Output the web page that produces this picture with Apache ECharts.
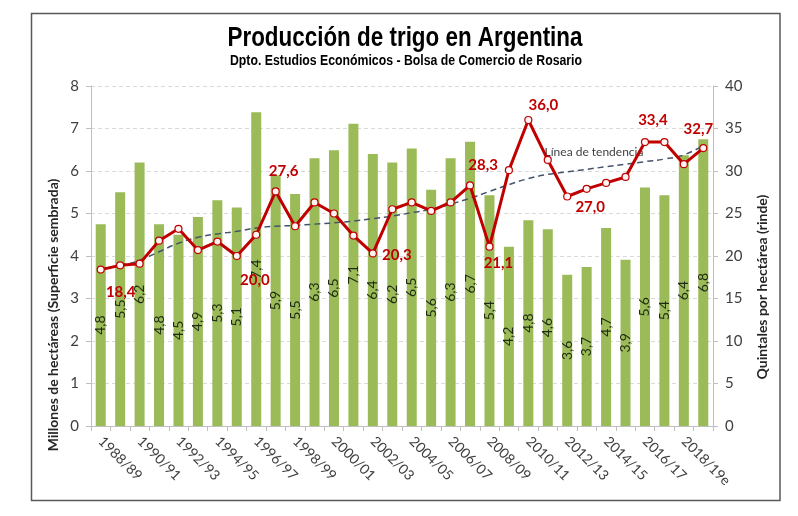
<!DOCTYPE html>
<html>
<head>
<meta charset="utf-8">
<script src="https://cdn.jsdelivr.net/npm/echarts@6/dist/echarts.min.js"></script>
<style>
html,body{margin:0;padding:0;background:#fff;}
#chart{width:798px;height:516px;}
</style>
</head>
<body>
<div id="chart"></div>
<script>
const categories = ['1988/89','1989/90','1990/91','1991/92','1992/93','1993/94','1994/95','1995/96','1996/97','1997/98','1998/99','1999/00','2000/01','2001/02','2002/03','2003/04','2004/05','2005/06','2006/07','2007/08','2008/09','2009/10','2010/11','2011/12','2012/13','2013/14','2014/15','2015/16','2016/17','2017/18','2018/19e','2019/20e'];
const areaMha = [4.75,5.5,6.2,4.75,4.5,4.92,5.31,5.14,7.38,5.9,5.46,6.3,6.49,7.11,6.4,6.2,6.53,5.56,6.3,6.69,5.43,4.22,4.84,4.63,3.56,3.74,4.66,3.91,5.61,5.43,6.37,6.75];
const yieldQqHa = [18.4,18.9,19.1,21.8,23.2,20.7,21.7,20.0,22.5,27.6,23.5,26.3,25.0,22.4,20.3,25.5,26.3,25.3,26.3,28.3,21.1,30.1,36.0,31.3,27.0,27.9,28.6,29.3,33.4,33.4,30.8,32.7];
const trendQqHa = [18.5,18.9,19.5,20.5,21.5,22.2,22.6,22.9,23.3,23.5,23.6,23.75,23.9,24.1,24.4,24.7,25.1,25.5,26.1,26.8,27.6,28.4,29.1,29.6,29.9,30.2,30.5,30.8,31.1,31.4,31.9,33.0];

const titleText = 'Producción de trigo en Argentina';
const subtitleText = 'Dpto. Estudios Económicos - Bolsa de Comercio de Rosario';

// which yield points carry a label, and where the label sits relative to the point
const yieldLabelOffsets = {0:[20,23],7:[18,24],9:[8,-20],14:[24,2],19:[13,-20],20:[9,17],22:[15,-15],24:[23,11],28:[8,-22],31:[-5,-19]};

const fmt = v => Number(v).toFixed(1).replace('.', ',');
const FONT = 'Lato';

// condensed look for the title: measure and squeeze horizontally
const ctx = document.createElement('canvas').getContext('2d');
function squeeze(text, font, target) {
  ctx.font = font;
  return target / ctx.measureText(text).width;
}
const titleFont = 'bold 27px "Liberation Sans"';
const subFont = 'bold 14px "Liberation Sans"';
const titleScale = squeeze(titleText, titleFont, 355);
const subScale = squeeze(subtitleText, subFont, 352);

const yieldData = yieldQqHa.map((v, i) => {
  const off = yieldLabelOffsets[i];
  if (!off) return v;
  return {
    value: v,
    label: {
      show: true, position: 'inside', offset: off,
      formatter: p => fmt(p.value),
      color: '#c00000', fontWeight: 'bold', fontSize: 15, fontFamily: FONT
    }
  };
});

const chart = echarts.init(document.getElementById('chart'), null, {renderer: 'canvas'});
chart.setOption({
  animation: false,
  backgroundColor: '#ffffff',
  grid: {left: 91, right: 85, top: 86, bottom: 90, containLabel: false},
  xAxis: {
    type: 'category', data: categories, boundaryGap: true,
    axisLine: {lineStyle: {color: '#bfbfbf'}},
    axisTick: {show: true, interval: 0, length: 5, lineStyle: {color: '#bfbfbf'}},
    axisLabel: {interval: 1, rotate: -45, margin: 13, fontSize: 14, color: '#404040', fontFamily: FONT}
  },
  yAxis: [{
    type: 'value', min: 0, max: 8, interval: 1,
    axisLine: {show: true, lineStyle: {color: '#bfbfbf'}},
    axisTick: {show: true, length: 5, lineStyle: {color: '#bfbfbf'}},
    axisLabel: {fontSize: 15, color: '#404040', margin: 12, fontFamily: FONT},
    splitLine: {show: true, lineStyle: {color: '#d9d9d9', type: [4, 3]}}
  }, {
    type: 'value', min: 0, max: 40, interval: 5,
    axisLine: {show: true, lineStyle: {color: '#bfbfbf'}},
    axisTick: {show: true, length: 5, lineStyle: {color: '#bfbfbf'}},
    axisLabel: {fontSize: 15, color: '#404040', margin: 12, fontFamily: FONT},
    splitLine: {show: false}
  }],
  graphic: [
    {type: 'rect', shape: {x: 31.5, y: 13.5, width: 748.5, height: 487}, style: {fill: 'none', stroke: '#595959', lineWidth: 1.5}, silent: true},
    {type: 'text', x: 405, y: 39, scaleX: titleScale, style: {text: titleText, font: titleFont, fill: '#000', textAlign: 'center', textVerticalAlign: 'middle'}},
    {type: 'text', x: 406, y: 61, scaleX: subScale, style: {text: subtitleText, font: subFont, fill: '#000', textAlign: 'center', textVerticalAlign: 'middle'}},
    {type: 'text', x: 53, y: 315, rotation: Math.PI / 2, style: {text: 'Millones de hectáreas (Superficie sembrada)', font: 'bold 14px Lato', fill: '#262626', textAlign: 'center', textVerticalAlign: 'middle'}},
    {type: 'text', x: 762, y: 287, rotation: Math.PI / 2, style: {text: 'Quintales por hectárea (rinde)', font: 'bold 14px Lato', fill: '#262626', textAlign: 'center', textVerticalAlign: 'middle'}},
    {type: 'text', x: 594, y: 152, style: {text: 'Línea de tendencia', font: '12px Lato', fill: '#404040', textAlign: 'center', textVerticalAlign: 'middle'}}
  ],
  series: [{
    name: 'Superficie sembrada', type: 'bar', data: areaMha, barWidth: 10, z: 1,
    itemStyle: {color: '#9bbb59'},
    label: {show: true, position: 'inside', rotate: 90, formatter: p => fmt(p.value), fontSize: 14, color: '#1f2a12', fontFamily: FONT}
  }, {
    name: 'Tendencia', type: 'line', yAxisIndex: 1, data: trendQqHa, smooth: true, showSymbol: false, z: 2,
    lineStyle: {color: '#44546a', width: 1.5, type: [6, 4]}
  }, {
    name: 'Rinde', type: 'line', yAxisIndex: 1, data: yieldData, z: 3,
    symbol: 'circle', symbolSize: 7,
    lineStyle: {color: '#c00000', width: 3},
    itemStyle: {color: '#fff4f4', borderColor: '#c00000', borderWidth: 1.2}
  }]
});
</script>
</body>
</html>
